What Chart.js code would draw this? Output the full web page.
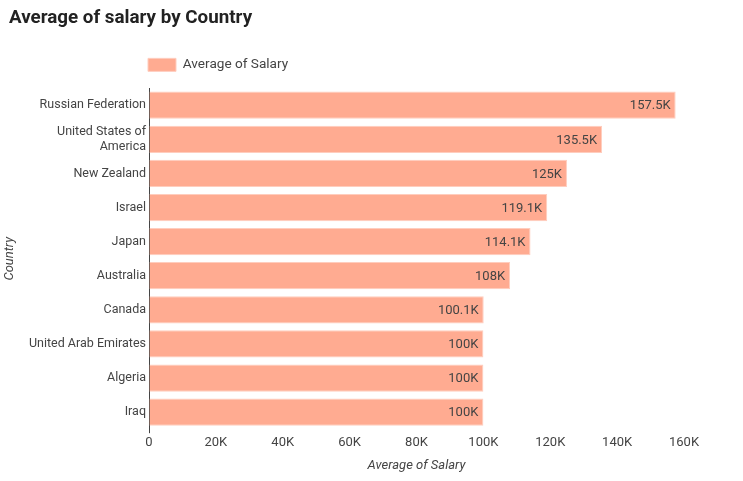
<!DOCTYPE html>
<html><head><meta charset="utf-8">
<script src="https://cdn.jsdelivr.net/npm/chart.js@4/dist/chart.umd.min.js"></script>
<style>html,body{margin:0;padding:0;background:#fff}#wrap{width:743px;height:481px}</style>
</head><body><div id="wrap"><canvas id="c" width="743" height="481"></canvas></div>
<script>
const categories = ["Russian Federation", ["United States of","America"], "New Zealand", "Israel", "Japan", "Australia", "Canada", "United Arab Emirates", "Algeria", "Iraq"];
const salaryValues = [157500, 135500, 125000, 119100, 114100, 108000, 100100, 100000, 100000, 100000];
const valueLabels = ["157.5K","135.5K","125K","119.1K","114.1K","108K","100.1K","100K","100K","100K"];
const xTicks = [0, 20000, 40000, 60000, 80000, 100000, 120000, 140000, 160000];

const barLabels = {
  id: 'barLabels',
  afterDatasetsDraw(chart) {
    const ctx = chart.ctx;
    const meta = chart.getDatasetMeta(0);
    ctx.save();
    ctx.font = '13px Roboto';
    ctx.fillStyle = '#444';
    ctx.textAlign = 'right';
    ctx.textBaseline = 'middle';
    meta.data.forEach((bar, i) => {
      ctx.fillText(valueLabels[i], bar.x - 5, bar.y + 1);
    });
    ctx.restore();
  }
};

const shiftBoxes = {
  id: 'shiftBoxes',
  afterLayout(chart) {
    const lg = chart.legend;
    if (lg) { lg.left -= 11; lg.right -= 11; lg.top -= 6.5; lg.bottom -= 6.5; }
    const tb = chart.titleBlock;
    if (tb) { tb.left += 9; tb.right += 9; }
  }
};

new Chart(document.getElementById('c'), {
  type: 'bar',
  data: {
    labels: categories,
    datasets: [{
      label: 'Average of Salary',
      data: salaryValues,
      backgroundColor: 'rgb(255,171,145)',
      borderColor: 'rgba(255,205,190,1)',
      borderWidth: 1,
      categoryPercentage: 0.8,
      barPercentage: 1.0
    }]
  },
  plugins: [barLabels, shiftBoxes],
  options: {
    indexAxis: 'y',
    responsive: false,
    animation: false,
    layout: { padding: { left: 0, right: 59, top: 0, bottom: 5 } },
    plugins: {
      title: {
        display: true, text: 'Average of salary by Country', align: 'start',
        color: '#222', font: { family: 'Roboto', size: 18.8, weight: 'bold' },
        padding: { top: 7.3, bottom: 24.7 }
      },
      legend: {
        display: true, align: 'start', fullSize: false,
        labels: { boxWidth: 28, boxHeight: 13, color: '#444', font: { family: 'Roboto', size: 13.6 }, padding: 10 }
      },
      tooltip: { enabled: false }
    },
    scales: {
      x: {
        min: 0, max: 160000,
        afterBuildTicks(axis) { axis.ticks = xTicks.map(v => ({ value: v })); },
        grid: { display: true, drawOnChartArea: false, drawTicks: true, tickLength: 4,
                color: c => c.index === 0 ? '#444' : 'rgba(0,0,0,0)' },
        border: { display: false },
        ticks: {
          color: '#444', font: { family: 'Roboto', size: 13 }, padding: 2,
          callback: v => v === 0 ? '0' : (v / 1000) + 'K'
        },
        title: { display: true, text: 'Average of Salary', color: '#444', font: { family: 'Roboto', size: 13, style: 'italic' }, padding: { top: 5.6, bottom: 2 } }
      },
      y: {
        afterFit(axis) { axis.width = 149; },
        grid: { display: false, drawTicks: false },
        border: { display: true, color: '#444', width: 1 },
        ticks: { color: '#444', font: { family: 'Roboto', size: 12.5 }, padding: 3, autoSkip: false },
        title: { display: true, text: 'Country', color: '#444', font: { family: 'Roboto', size: 13, style: 'italic' }, padding: { top: 2, bottom: 2 } }
      }
    }
  }
});
</script></body></html>
